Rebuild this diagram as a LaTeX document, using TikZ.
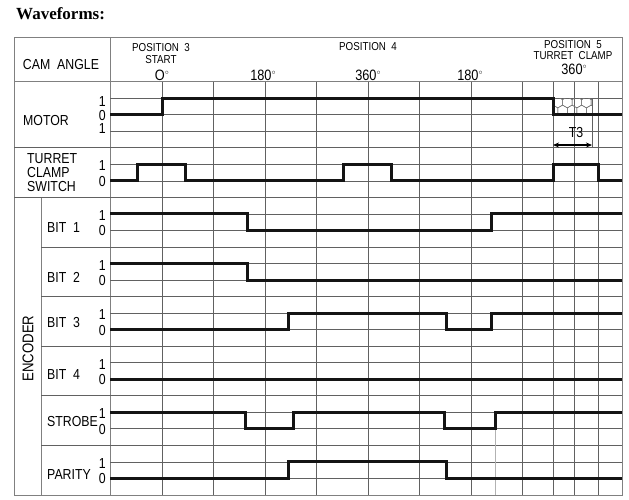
\documentclass[tikz,border=0pt]{standalone}
\usepackage{fontspec}
\setmainfont{Liberation Serif}
\newfontfamily\chartfont[FakeStretch=0.85]{Liberation Sans}
\usetikzlibrary{positioning,arrows.meta}
\tikzstyle{timing chart}=[
    x=1pt,y=-1pt,
    every node/.style={inner sep=0pt,font=\chartfont},
]
\tikzstyle{frame}=[draw=black!50,line width=1pt]
\tikzstyle{grid line}=[draw=black!62,line width=0.7pt]
\tikzstyle{guide}=[draw=black!30,line width=0.7pt]
\tikzstyle{signal}=[draw=black!92,line width=3pt,line join=miter]
\tikzstyle{hatch line}=[draw=black!55,line width=0.5pt]
\tikzstyle{dim}=[draw=black,line width=1.2pt,{Stealth[length=6pt,width=5pt]}-{Stealth[length=6pt,width=5pt]}]
\tikzstyle{title}=[anchor=base west,font=\rmfamily\bfseries\fontsize{17}{20}\selectfont]
\tikzstyle{row label}=[anchor=west,align=left,font=\chartfont\fontsize{14.5}{14}\selectfont]
\tikzstyle{level}=[anchor=east,font=\chartfont\fontsize{14.5}{14}\selectfont]
\tikzstyle{header}=[align=center,font=\chartfont\fontsize{11.5}{11.5}\selectfont]
\tikzstyle{angle}=[anchor=base,font=\chartfont\fontsize{15}{15}\selectfont]
\newcommand{\angmark}[1]{#1\raisebox{0.38em}{\fontsize{7}{7}\selectfont$\circ$}}
\newcommand{\levelpair}[2]{%
    \node[level,yshift=-1.5pt] (#1-one) at (106,#2) {1};
    \node[level,yshift=-0.5pt] (#1-zero) at (106,{#2+1}) {0};
}

\begin{document}
\begin{tikzpicture}[timing chart]
    \useasboundingbox (0,0) rectangle (629,499);
    \node[title] (title) at (16,19.5) {Waveforms:};

    % table frame
    \draw[frame] (14,37.3) rectangle (622,495);
    \draw[frame] (110,37.3) -- (110,495);
    \draw[frame] (14,81.7) -- (622,81.7);
    \draw[frame] (41,198.3) -- (41,495);

    \begin{scope}[shift={(0,81.7)},y=-16.53pt]
        % grid
        \foreach \k in {1,...,24}
            \draw[grid line] (110,\k) -- (622,\k);
        \foreach \k in {4,7}
            \draw[grid line] (14,\k) -- (110,\k);
        \foreach \k in {10,13,...,22}
            \draw[grid line] (41,\k) -- (110,\k);
        \foreach \x in {162,213,265,316,368,419,471,522,553,574,598}
            \draw[grid line] (\x,0) -- (\x,25);
        \draw[guide] (495,21) -- (495,25);

        % hatched band after the motor stops
        \begin{scope}
            \clip (553,1) rectangle (592,2);
            \foreach \row in {0,1,2,3}
                \foreach \col in {0,...,5} {
                    \pgfmathsetmacro\cx{553+9.55*\col+4.78*mod(\row,2)}
                    \pgfmathsetmacro\cy{0.75+0.5*\row}
                    \draw[hatch line] (\cx,\cy) +(90:5.5pt) -- +(30:5.5pt) -- +(-30:5.5pt)
                        -- +(-90:5.5pt) -- +(-150:5.5pt) -- +(150:5.5pt) -- cycle;
                }
        \end{scope}

        % T3
        \coordinate (t3top) at (592,1);
        \coordinate (t3foot) at (592,3.95);
        \coordinate (t3a) at (553,3.83);
        \coordinate (t3b) at (592,3.83);
        \draw[grid line] (t3top) -- (t3foot);
        \draw[dim] (t3a) -- (t3b);
        \node[font=\chartfont\fontsize{14.5}{14}\selectfont] (t3) at (576,3.1) {T3};

        % waveforms
        \draw[signal] (110,2) -| (162,1) -| (553,2) -- (622,2);
        \draw[signal] (110,6) -| (137,5) -| (185,6) -| (343,5) -| (391,6) -| (553,5) -| (598,6) -- (622,6);
        \draw[signal] (110,8) -| (247,9) -| (491,8) -- (622,8);
        \draw[signal] (110,11) -| (247,12) -- (622,12);
        \draw[signal] (110,15) -| (288,14) -| (446,15) -| (491,14) -- (622,14);
        \draw[signal] (110,18) -- (622,18);
        \draw[signal] (110,20) -| (245,21) -| (293,20) -| (444,21) -| (495,20) -- (622,20);
        \draw[signal] (110,24) -| (288,23) -| (446,24) -- (622,24);

        % 1/0 levels
        \node[level,yshift=-3pt] (motor-one) at (106,1) {1};
        \node[level,yshift=-0.5pt] (motor-zero) at (106,2) {0};
        \node[level,yshift=2.5pt] (motor-low) at (106,3) {1};
        \levelpair{clamp}{5}
        \levelpair{bit1}{8}
        \levelpair{bit2}{11}
        \levelpair{bit3}{14}
        \levelpair{bit4}{17}
        \levelpair{strobe}{20}
        \levelpair{parity}{23}
    \end{scope}

    % header
    \node[row label,anchor=center] (cam) at (61,65) {CAM\ \ ANGLE};
    \node[header] (pos3) at (161,53.5) {POSITION\ \ 3\\START};
    \node[header] (pos4) at (368,47) {POSITION\ \ 4};
    \node[header] (pos5) at (573,50) {POSITION\ \ 5\\TURRET\ \ CLAMP};
    \node[angle] (a0) at (162,80) {\angmark{O}};
    \node[angle] (a180) at (263,80) {\angmark{180}};
    \node[angle] (a360) at (368,80) {\angmark{360}};
    \node[angle] (b180) at (470,80) {\angmark{180}};
    \node[angle] (b360) at (574,74.5) {\angmark{360}};

    % row labels
    \node[row label] (motor) at (23,121) {MOTOR};
    \node[row label] (clamp) at (27,173) {TURRET\\CLAMP\\SWITCH};
    \node[row label,anchor=center,rotate=90,font=\chartfont\fontsize{15.5}{15}\selectfont] (encoder) at (28,348.5) {ENCODER};
    \node[row label] (bit1) at (47,227.5) {BIT\ \ 1};
    \node[row label] (bit2) at (47,277) {BIT\ \ 2};
    \node[row label] (bit3) at (47,322.5) {BIT\ \ 3};
    \node[row label] (bit4) at (47,375) {BIT\ \ 4};
    \node[row label] (strobe) at (47,421.5) {STROBE};
    \node[row label] (parity) at (47,475) {PARITY};
\end{tikzpicture}
\end{document}
